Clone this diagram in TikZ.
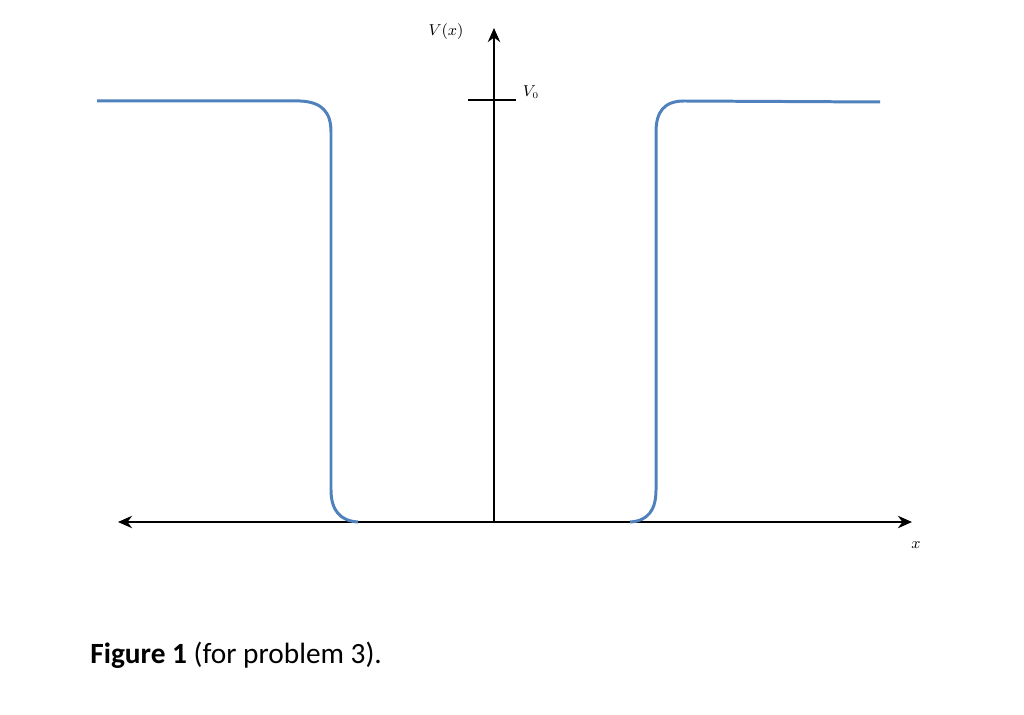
\documentclass[tikz,border=0pt]{standalone}
\usepackage{fontspec}
\newfontfamily\capfont{Carlito}
\usetikzlibrary{arrows.meta}
\begin{document}
\begin{tikzpicture}[x=0.02cm,y=-0.02cm]
		\tikzstyle{axis}=[line width=1.5pt,black]
		\tikzstyle{wall}=[line width=1.7pt,color={rgb,255:red,79;green,129;blue,189}]
		\tikzstyle{lbl}=[font=\fontsize{9}{10}\selectfont\itshape,inner sep=0pt]

		\useasboundingbox (0,0) rectangle (1024,715);

		\coordinate (xl) at (118,522);
		\coordinate (xr) at (912,522);
		\coordinate (o) at (494,522);
		\coordinate (yt) at (494,28);

		\draw[axis,{Stealth[length=8pt,width=7pt]}-{Stealth[length=8pt,width=7pt]}] (xl)-- (xr);
		\draw[axis,-{Stealth[length=8pt,width=7pt]}] (o)-- (yt);
		\draw[axis] (468,100)-- (516,100);

		\node[lbl] (vx) at (446,32) {$V(x)$};
		\node[lbl] (vo) at (531,92) {$V_{\scriptscriptstyle 0}$};
		\node[lbl] (xlab) at (916,545) {$x$};

		\draw[wall] (97,101)-- (300,101) .. controls (322,102) and (331,112) .. (331,132)
			-- (331,490) .. controls (331,510) and (340,521) .. (358,522);
		\draw[wall] (630,522) .. controls (648,521) and (656,510) .. (656,490)
			-- (656,132) .. controls (656,112) and (664,101) .. (684,101) -- (880,102);

		\node[anchor=west,inner sep=0pt,font=\capfont\fontsize{16.7}{19}\selectfont] (cap) at (90,655)
			{\textbf{Figure 1} (for problem 3).};
\end{tikzpicture}
\end{document}
